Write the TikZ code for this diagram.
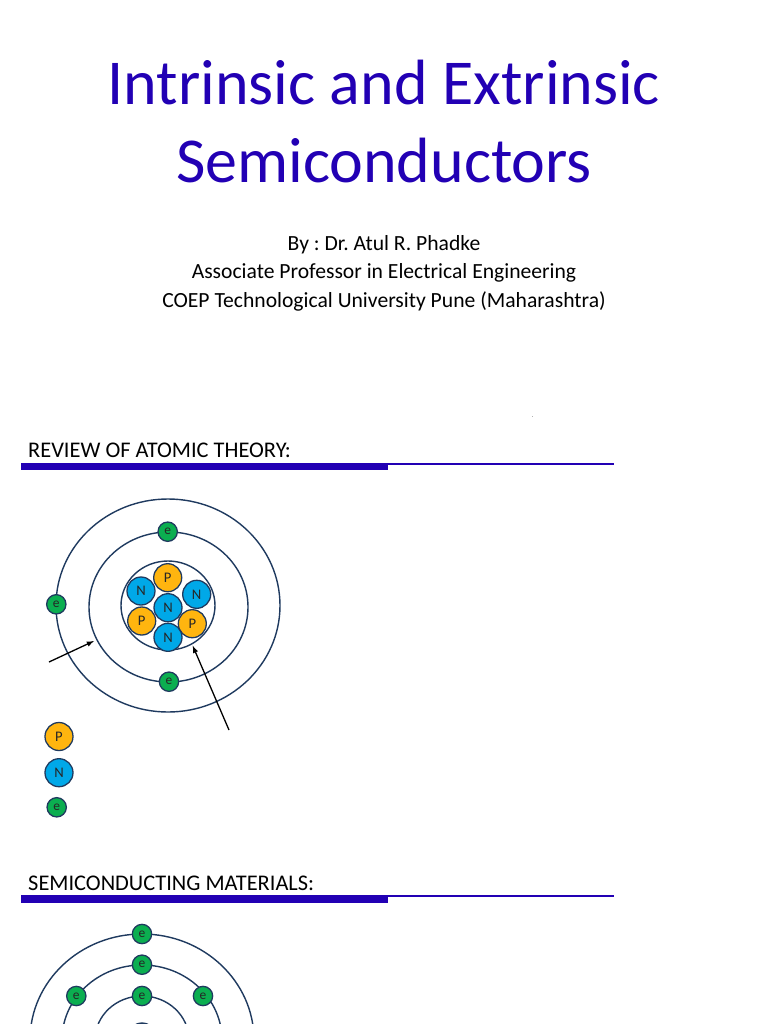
\documentclass[tikz,border=0pt]{standalone}
\usepackage{fontspec}
\setmainfont{Carlito}
\frenchspacing
\definecolor{slideblue}{HTML}{2200B4}
\definecolor{orbitblue}{HTML}{1F3A5F}
\definecolor{protoncol}{HTML}{FFB50F}
\definecolor{neutroncol}{HTML}{00A8E8}
\definecolor{electroncol}{HTML}{0BAE50}
\tikzset{
  orbit/.style={draw=orbitblue, line width=1.2pt},
  proton/.style={draw=orbitblue, text=black!85, line width=1.1pt, circle, fill=protoncol, minimum size=0.84cm, inner sep=0pt, font=\fontsize{12.5}{14}\selectfont},
  neutron/.style={proton, fill=neutroncol},
  electron/.style={proton, fill=electroncol, minimum size=0.58cm, font=\fontsize{11.5}{13}\selectfont},
  heading/.style={anchor=base west, inner sep=0pt, font=\fontsize{19.1}{22}\selectfont},
  byline/.style={anchor=base, inner sep=0pt, font=\fontsize{18.45}{22}\selectfont},
  maintitle/.style={anchor=base, inner sep=0pt, text=slideblue, font=\fontsize{54.6}{64}\selectfont}
}
\begin{document}
\begin{tikzpicture}[>=latex, x=0.03cm, y=-0.03cm]
\useasboundingbox (0,0) rectangle (768,1024);

% Title block
\node[maintitle] (title1) at (384,104) {Intrinsic and Extrinsic};
\node[maintitle] (title2) at (384,182) {Semiconductors};
\node[byline] (by1) at (384,250) {By : Dr. Atul R. Phadke};
\node[byline] (by2) at (384,278.5) {Associate Professor in Electrical Engineering};
\node[byline] (by3) at (384,307.5) {COEP Technological University Pune (Maharashtra)};
\fill[gray!60] (531.5,415.5) rectangle (533,416.5);

% First section heading
\node[heading] (review) at (28,457) {REVIEW OF ATOMIC THEORY:};
\fill[slideblue] (21,462.5) rectangle (614,464.5);
\fill[slideblue] (21,462.5) rectangle (388,470);

% Atom
\draw[orbit] (168,605.5) ellipse (112 and 106.5);
\draw[orbit] (168.5,607) ellipse (79.5 and 75);
\draw[orbit] (168,605.5) ellipse (47 and 44.5);

\node[proton] (p1) at (167.7,577.7) {P};
\node[neutron] (n1) at (141,591) {N};
\node[neutron] (n2) at (196.7,594.3) {N};
\node[neutron] (n3) at (168,607.7) {N};
\node[proton] (p2) at (141.7,621) {P};
\node[proton] (p3) at (192.3,623.7) {P};
\node[neutron] (n4) at (168,637.3) {N};

\node[electron] (e1) at (167.7,531.7) {e};
\node[electron] (e2) at (56.3,604.3) {e};
\node[electron] (e3) at (169,681.7) {e};

% Arrows
\coordinate (shellfrom) at (49,662);
\coordinate (shellto) at (94,641);
\coordinate (nucfrom) at (229,730);
\coordinate (nucto) at (192.7,645.7);
\draw[->, line width=1.1pt] (shellfrom) -- (shellto);
\draw[->, line width=1.1pt] (nucfrom) -- (nucto);

% Legend
\node[proton] (legp) at (59,736.5) {P};
\node[neutron] (legn) at (59,772.7) {N};
\node[electron] (lege) at (56.7,807.3) {e};

% Second section heading
\node[heading] (semi) at (28,890) {SEMICONDUCTING MATERIALS:};
\fill[slideblue] (21,895) rectangle (614,897);
\fill[slideblue] (21,895) rectangle (388,903);

% Second atom, cut off by the page
\draw[orbit] (142,1040) ellipse (112 and 106);
\draw[orbit] (142,1040) ellipse (80 and 75);
\draw[orbit] (142,1040) ellipse (47 and 44);
\node[neutron, fill=orbitblue] (core) at (142,1037) {};

\node[electron] (s1) at (142,934) {e};
\node[electron] (s2) at (142,964.7) {e};
\node[electron] (s3) at (142,996) {e};
\node[electron] (s4) at (76.3,996) {e};
\node[electron] (s5) at (203,996) {e};
\end{tikzpicture}
\end{document}
